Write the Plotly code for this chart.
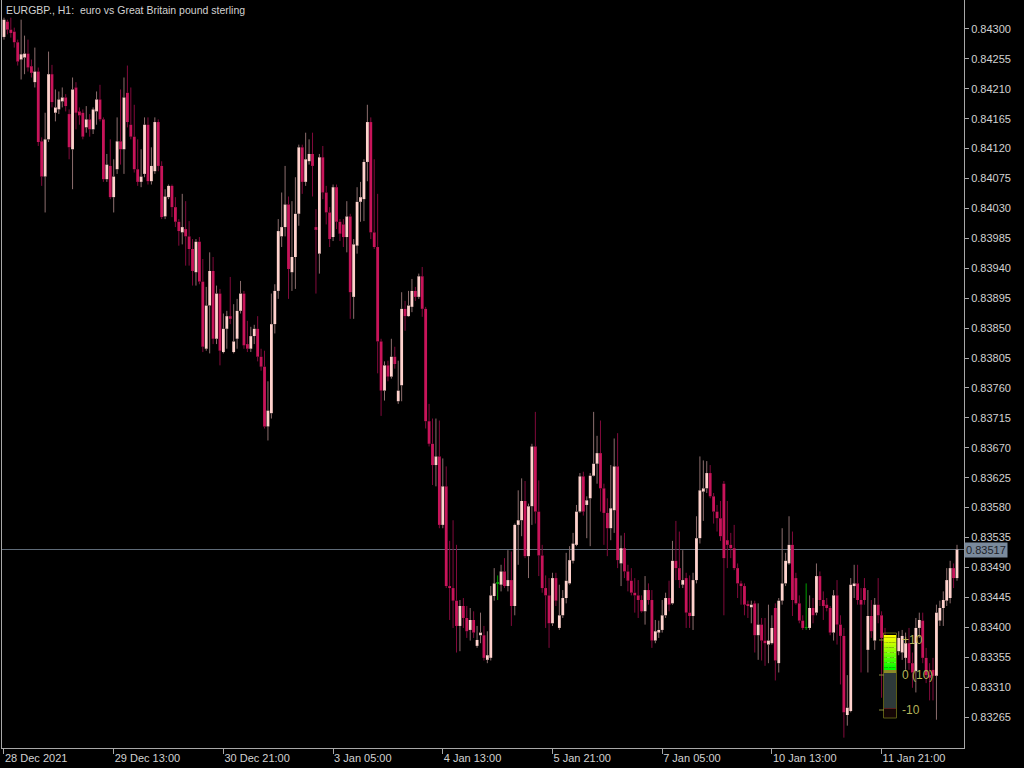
import numpy as np
import pandas as pd
import plotly.graph_objects as go

# EURGBP H1 bars, prices in points (1e-5)
open_pts = [
    84288, 84311, 84299, 84296, 84280, 84254, 84257, 84263, 84244, 84220,
    84236, 84131, 84078, 84134, 84232, 84174, 84179, 84191, 84197, 84172,
    84119, 84212, 84176, 84174, 84152, 84164, 84149, 84176, 84194, 84164,
    84074, 84094, 84047, 84089, 84131, 84119, 84204, 84156, 84138, 84089,
    84070, 84082, 84156, 84071, 84086, 84160, 84094, 84018, 84047, 84064,
    84032, 84010, 83994, 83999, 83988, 83969, 83934, 83980, 83920, 83819,
    83884, 83936, 83834, 83902, 83814, 83849, 83868, 83814, 83834, 83876,
    83902, 83826, 83819, 83838, 83849, 83807, 83792, 83702, 83722, 83856,
    83906, 83988, 84002, 84036, 83934, 83957, 84022, 84122, 84070, 84101,
    84112, 84002, 83962, 84107, 84054, 84024, 83987, 84062, 84010, 84006,
    83987, 84018, 83897, 83974, 84040, 84044, 84100, 84160, 83994, 83972,
    83830, 83756, 83794, 83777, 83807, 83740, 83764, 83879, 83868, 83882,
    83906, 83897, 83928, 83879, 83710, 83676, 83644, 83657, 83554, 83612,
    83462, 83459, 83440, 83402, 83432, 83414, 83396, 83411, 83372, 83388,
    83388, 83351, 83354, 83447, 83466, 83464, 83484, 83462, 83471, 83432,
    83554, 83561, 83590, 83507, 83582, 83672, 83574, 83508, 83459, 83448,
    83406, 83474, 83399, 83418, 83444, 83466, 83500, 83524, 83574, 83627,
    83584, 83594, 83628, 83646, 83662, 83609, 83572, 83549, 83576, 83642,
    83496, 83519, 83484, 83470, 83452, 83448, 83441, 83424, 83456, 83441,
    83380, 83392, 83396, 83418, 83444, 83436, 83500, 83489, 83464, 83474,
    83422, 83417, 83471, 83534, 83604, 83609, 83632, 83597, 83574, 83564,
    83616, 83531, 83524, 83519, 83489, 83466, 83462, 83434, 83430, 83436,
    83388, 83404, 83380, 83374, 83376, 83429, 83346, 83440, 83466, 83496,
    83524, 83474, 83436, 83410, 83399, 83399, 83429, 83422, 83477, 83441,
    83434, 83429, 83392, 83448, 83404, 83387, 83268, 83274, 83462, 83466,
    83441, 83459, 83366, 83417, 83380, 83434, 83418, 83384, 83342, 83369,
    83346, 83364, 83362, 83354, 83376, 83346, 83334, 83399, 83410, 83354,
    83328, 83336, 83327, 83410, 83429, 83440, 83444, 83489, 83474,
]
high_pts = [
    84317, 84314, 84317, 84302, 84284, 84314, 84290, 84284, 84254, 84272,
    84242, 84137, 84174, 84266, 84246, 84209, 84206, 84212, 84202, 84179,
    84227, 84220, 84182, 84179, 84184, 84172, 84182, 84206, 84216, 84167,
    84112, 84134, 84104, 84167, 84209, 84227, 84245, 84212, 84186, 84134,
    84119, 84167, 84167, 84122, 84167, 84164, 84101, 84059, 84066, 84066,
    84047, 84014, 84052, 84041, 84011, 83984, 83984, 83987, 83954, 83912,
    83964, 83957, 83914, 83909, 83872, 83876, 83927, 83886, 83894, 83921,
    83906, 83861, 83852, 83855, 83868, 83819, 83816, 83770, 83902, 83916,
    84014, 84054, 84094, 84048, 84041, 84077, 84126, 84126, 84144, 84134,
    84144, 84029, 84112, 84124, 84064, 84032, 84066, 84066, 84014, 84014,
    84041, 84022, 83984, 84062, 84070, 84104, 84186, 84167, 84104, 84052,
    83834, 83800, 83801, 83834, 83822, 83801, 83904, 83891, 83906, 83924,
    83912, 83932, 83942, 83882, 83736, 83714, 83714, 83711, 83654, 83642,
    83530, 83561, 83524, 83441, 83444, 83432, 83429, 83424, 83402, 83422,
    83402, 83394, 83462, 83489, 83478, 83494, 83504, 83516, 83514, 83556,
    83606, 83624, 83620, 83586, 83676, 83724, 83621, 83524, 83478, 83474,
    83482, 83482, 83464, 83456, 83512, 83522, 83542, 83584, 83632, 83634,
    83597, 83632, 83724, 83688, 83711, 83616, 83594, 83644, 83684, 83692,
    83538, 83542, 83494, 83489, 83474, 83471, 83448, 83477, 83466, 83456,
    83411, 83410, 83441, 83452, 83470, 83530, 83560, 83544, 83516, 83482,
    83478, 83482, 83567, 83657, 83651, 83650, 83644, 83602, 83584, 83590,
    83620, 83590, 83542, 83554, 83496, 83470, 83466, 83440, 83440, 83440,
    83436, 83414, 83414, 83434, 83418, 83436, 83444, 83549, 83512, 83567,
    83544, 83482, 83448, 83418, 83466, 83448, 83444, 83496, 83484, 83454,
    83444, 83432, 83456, 83471, 83418, 83399, 83328, 83474, 83494, 83494,
    83459, 83474, 83456, 83441, 83444, 83474, 83424, 83399, 83384, 83381,
    83387, 83394, 83396, 83392, 83399, 83362, 83414, 83422, 83422, 83369,
    83346, 83354, 83434, 83440, 83454, 83489, 83500, 83496, 83524,
]
low_pts = [
    84284, 84292, 84287, 84272, 84245, 84224, 84232, 84236, 84227, 84212,
    84124, 84064, 84024, 84130, 84182, 84161, 84172, 84182, 84176, 84104,
    84059, 84149, 84156, 84134, 84144, 84138, 84142, 84156, 84161, 84070,
    84070, 84044, 84024, 84082, 84096, 84082, 84152, 84134, 84084, 84064,
    84062, 84077, 84066, 84066, 84082, 84086, 84014, 84014, 84044, 84017,
    84002, 83974, 83976, 83944, 83944, 83914, 83914, 83916, 83814, 83816,
    83812, 83826, 83826, 83794, 83812, 83819, 83856, 83812, 83819, 83872,
    83819, 83814, 83814, 83826, 83800, 83786, 83699, 83681, 83714, 83842,
    83894, 83972, 83988, 83894, 83906, 83909, 84004, 84052, 84064, 84096,
    84048, 83902, 83932, 84044, 84006, 83972, 83981, 83999, 83981, 83972,
    83964, 83864, 83864, 83962, 84010, 84011, 84071, 83984, 83969, 83782,
    83718, 83741, 83770, 83774, 83789, 83736, 83740, 83846, 83867, 83874,
    83891, 83894, 83867, 83699, 83672, 83614, 83612, 83549, 83549, 83459,
    83411, 83399, 83362, 83364, 83399, 83384, 83380, 83384, 83369, 83376,
    83350, 83346, 83350, 83440, 83441, 83454, 83459, 83454, 83402, 83418,
    83494, 83537, 83504, 83474, 83554, 83556, 83477, 83452, 83399, 83369,
    83402, 83432, 83396, 83414, 83436, 83464, 83496, 83522, 83572, 83568,
    83534, 83522, 83627, 83616, 83574, 83524, 83507, 83531, 83542, 83489,
    83462, 83474, 83454, 83448, 83422, 83414, 83422, 83404, 83434, 83369,
    83376, 83384, 83392, 83414, 83424, 83434, 83471, 83459, 83459, 83399,
    83399, 83396, 83466, 83526, 83560, 83602, 83594, 83556, 83544, 83530,
    83418, 83489, 83504, 83486, 83444, 83434, 83418, 83414, 83406, 83362,
    83351, 83350, 83342, 83346, 83374, 83320, 83332, 83434, 83462, 83494,
    83417, 83434, 83406, 83396, 83396, 83396, 83406, 83418, 83432, 83411,
    83424, 83388, 83380, 83374, 83314, 83234, 83252, 83272, 83444, 83434,
    83332, 83434, 83332, 83384, 83366, 83406, 83294, 83309, 83336, 83332,
    83339, 83358, 83351, 83336, 83336, 83309, 83302, 83384, 83346, 83316,
    83290, 83290, 83261, 83402, 83402, 83432, 83436, 83459, 83470,
]
close_pts = [
    84314, 84299, 84294, 84280, 84251, 84262, 84263, 84242, 84234, 84236,
    84130, 84078, 84134, 84232, 84190, 84182, 84194, 84197, 84184, 84122,
    84209, 84174, 84170, 84138, 84164, 84149, 84179, 84194, 84164, 84074,
    84096, 84047, 84078, 84131, 84119, 84197, 84160, 84138, 84089, 84070,
    84078, 84156, 84071, 84094, 84160, 84094, 84017, 84048, 84064, 84032,
    84010, 83996, 84002, 83988, 83969, 83936, 83980, 83920, 83822, 83884,
    83936, 83834, 83902, 83816, 83849, 83868, 83864, 83830, 83876, 83902,
    83824, 83819, 83838, 83849, 83807, 83792, 83702, 83726, 83856, 83906,
    83996, 84002, 84036, 83939, 83957, 84022, 84122, 84070, 84104, 84112,
    84094, 83999, 84107, 84054, 84024, 83984, 84062, 84010, 83992, 83987,
    84018, 83904, 83976, 84040, 84047, 84100, 84160, 83994, 83972, 83830,
    83756, 83794, 83777, 83807, 83796, 83756, 83879, 83868, 83884, 83906,
    83897, 83928, 83879, 83710, 83676, 83644, 83657, 83554, 83612, 83462,
    83459, 83440, 83402, 83432, 83414, 83394, 83411, 83392, 83381, 83392,
    83354, 83358, 83448, 83466, 83466, 83484, 83462, 83471, 83432, 83554,
    83561, 83590, 83507, 83582, 83672, 83574, 83508, 83459, 83448, 83406,
    83474, 83440, 83418, 83444, 83470, 83501, 83526, 83574, 83627, 83574,
    83591, 83628, 83646, 83662, 83609, 83572, 83549, 83579, 83642, 83501,
    83519, 83484, 83470, 83452, 83448, 83441, 83424, 83456, 83441, 83380,
    83394, 83396, 83418, 83444, 83434, 83500, 83489, 83471, 83471, 83422,
    83417, 83471, 83534, 83606, 83609, 83632, 83597, 83574, 83564, 83537,
    83504, 83524, 83519, 83489, 83466, 83462, 83434, 83432, 83434, 83388,
    83404, 83380, 83376, 83380, 83399, 83350, 83440, 83466, 83500, 83524,
    83441, 83436, 83410, 83399, 83399, 83429, 83418, 83477, 83441, 83432,
    83429, 83392, 83448, 83404, 83387, 83272, 83279, 83464, 83466, 83441,
    83434, 83441, 83417, 83394, 83434, 83418, 83384, 83342, 83369, 83346,
    83376, 83384, 83387, 83376, 83346, 83332, 83399, 83411, 83354, 83328,
    83324, 83327, 83422, 83429, 83441, 83471, 83489, 83474, 83517,
]

first_bar = "2021-12-28 05:00"
tick_times = ["2021-12-28 05:00", "2021-12-29 13:00", "2021-12-30 21:00",
              "2022-01-03 05:00", "2022-01-04 13:00", "2022-01-05 21:00",
              "2022-01-07 05:00", "2022-01-10 13:00", "2022-01-11 21:00"]
tick_text = ["28 Dec 2021", "29 Dec 13:00", "30 Dec 21:00", "3 Jan 05:00",
             "4 Jan 13:00", "5 Jan 21:00", "7 Jan 05:00", "10 Jan 13:00",
             "11 Jan 21:00"]
price_ticks = [0.83265, 0.83310, 0.83355, 0.83400, 0.83445, 0.83490, 0.83535,
               0.83580, 0.83625, 0.83670, 0.83715, 0.83760, 0.83805, 0.83850,
               0.83895, 0.83940, 0.83985, 0.84030, 0.84075, 0.84120, 0.84165,
               0.84210, 0.84255, 0.84300]
last_price = 0.83517
chart_title = "EURGBP., H1:  euro vs Great Britain pound sterling"
gauge_labels = ["+10", "0 (10)", "-10"]

BULL_BODY = "#ffd2cd"
BEAR_BODY = "#c8145a"
BULL_WICK = "#8c6e6e"
BEAR_WICK = "#820a3c"
DOJI = "#00a000"
FRAME = "#a8a8a8"
TEXT = "#d2d2d2"
FONT = "Liberation Sans"

o = np.array(open_pts) / 1e5
h = np.array(high_pts) / 1e5
l = np.array(low_pts) / 1e5
c = np.array(close_pts) / 1e5
n = len(close_pts)

# hourly bars, weekends skipped
hours = pd.date_range(first_bar, periods=n * 2, freq="h")
hours = hours[hours.dayofweek < 5][:n]
times = hours.strftime("%Y-%m-%d %H:%M").tolist()

top = np.maximum(o, c)
bot = np.minimum(o, c)
bull = c > o
bear = c < o
doji = c == o


def wicks(mask):
    xs, ys = [], []
    for i in np.where(mask)[0]:
        xs += [times[i], times[i], None, times[i], times[i], None]
        ys += [h[i], top[i], None, bot[i], l[i], None]
    return xs, ys


fig = go.Figure()
body_col = [BULL_BODY if b else (BEAR_BODY if r else DOJI) for b, r in zip(bull, bear)]
fig.add_trace(go.Bar(x=times, y=np.maximum(top - bot, 0.000012), base=bot,
                     width=0.82, marker=dict(color=body_col, line=dict(width=0))))
for mask, col in [(bull, BULL_WICK), (bear, BEAR_WICK), (doji, DOJI)]:
    wx, wy = wicks(mask)
    fig.add_trace(go.Scatter(x=wx, y=wy, mode="lines", hoverinfo="skip",
                             line=dict(color=col, width=1)))

# plot area in pixels: x 2..964, y 0..748
def px(x):
    return (x - 2) / 962


def py(y):
    return (748 - y) / 748


shapes = [dict(type="line", xref="paper", x0=0, x1=1, y0=last_price, y1=last_price,
               line=dict(color="#5f6b78", width=1), layer="below")]

# gauge in the lower right corner
strips = 14
for k in range(strips):
    y0 = 635 + k * 35 / strips
    red = int(255 * (1 - k / (strips - 1)))
    shapes.append(dict(type="rect", xref="paper", yref="paper",
                       x0=px(884), x1=px(896), y0=py(y0 + 35 / strips), y1=py(y0),
                       fillcolor="rgb(%d,255,0)" % red, line=dict(width=0), layer="above"))
shapes += [
    dict(type="rect", xref="paper", yref="paper", x0=px(884), x1=px(896),
         y0=py(673), y1=py(670), fillcolor="#8c8c28", line=dict(width=0), layer="above"),
    dict(type="rect", xref="paper", yref="paper", x0=px(884), x1=px(896),
         y0=py(708), y1=py(673), fillcolor="#2e3a3a", line=dict(width=0), layer="above"),
    dict(type="rect", xref="paper", yref="paper", x0=px(884), x1=px(896),
         y0=py(718), y1=py(708), fillcolor="#140505", line=dict(width=0), layer="above"),
    dict(type="line", xref="paper", yref="paper", x0=px(884), x1=px(896),
         y0=py(708.5), y1=py(708.5), line=dict(color="#5a1e1e", width=1), layer="above"),
    dict(type="rect", xref="paper", yref="paper", x0=px(883.5), x1=px(896.5),
         y0=py(718), y1=py(633), line=dict(color="#5c5c14", width=1), layer="above"),
]
for yy in (640, 675, 710):
    shapes.append(dict(type="line", xref="paper", yref="paper", x0=px(879), x1=px(884),
                       y0=py(yy), y1=py(yy), line=dict(color="#8c8c3c", width=1),
                       layer="above"))

annotations = [
    dict(text=chart_title, xref="paper", yref="paper", x=0, y=1, xanchor="left",
         yanchor="top", xshift=2, yshift=-2, showarrow=False,
         font=dict(family=FONT, size=10.5, color=TEXT)),
    dict(text="%.5f" % last_price, xref="paper", yref="y", x=1, y=last_price,
         xanchor="left", yanchor="middle", showarrow=False, bgcolor="#7a8a9c",
         borderpad=1, font=dict(family=FONT, size=11, color="#1e232a")),
]
for lab, yy in zip(gauge_labels, (640, 675, 710)):
    annotations.append(dict(text=lab, xref="paper", yref="paper", x=px(900), y=py(yy),
                            xanchor="left", yanchor="middle", showarrow=False,
                            font=dict(family=FONT, size=12, color="#b4b45a")))

fig.update_layout(
    width=1024, height=768,
    margin=dict(l=2, r=60, t=0, b=20),
    paper_bgcolor="black", plot_bgcolor="black",
    showlegend=False, barmode="overlay",
    shapes=shapes, annotations=annotations,
    xaxis=dict(type="category", categoryorder="array", categoryarray=times,
               range=[-0.58, n + 1.04], tickvals=tick_times,
               ticktext=tick_text, ticks="outside", ticklen=5, tickcolor=FRAME,
               tickangle=0, automargin=False,
               ticklabelposition="outside right", showline=True, linecolor=FRAME,
               mirror=True, showgrid=False, zeroline=False,
               tickfont=dict(family=FONT, size=11, color=TEXT)),
    yaxis=dict(side="right", range=[0.832184, 0.843436], tickvals=price_ticks,
               tickformat=".5f", ticks="outside", ticklen=4, tickcolor=FRAME,
               automargin=False,
               showline=True, linecolor=FRAME, mirror=True, showgrid=False,
               zeroline=False, tickfont=dict(family=FONT, size=11, color=TEXT)),
)

# the page's default body margin would shift the chart by 8px
fig.write_html("out.html", config={"displayModeBar": False},
               post_script="document.body.style.margin='0';")
